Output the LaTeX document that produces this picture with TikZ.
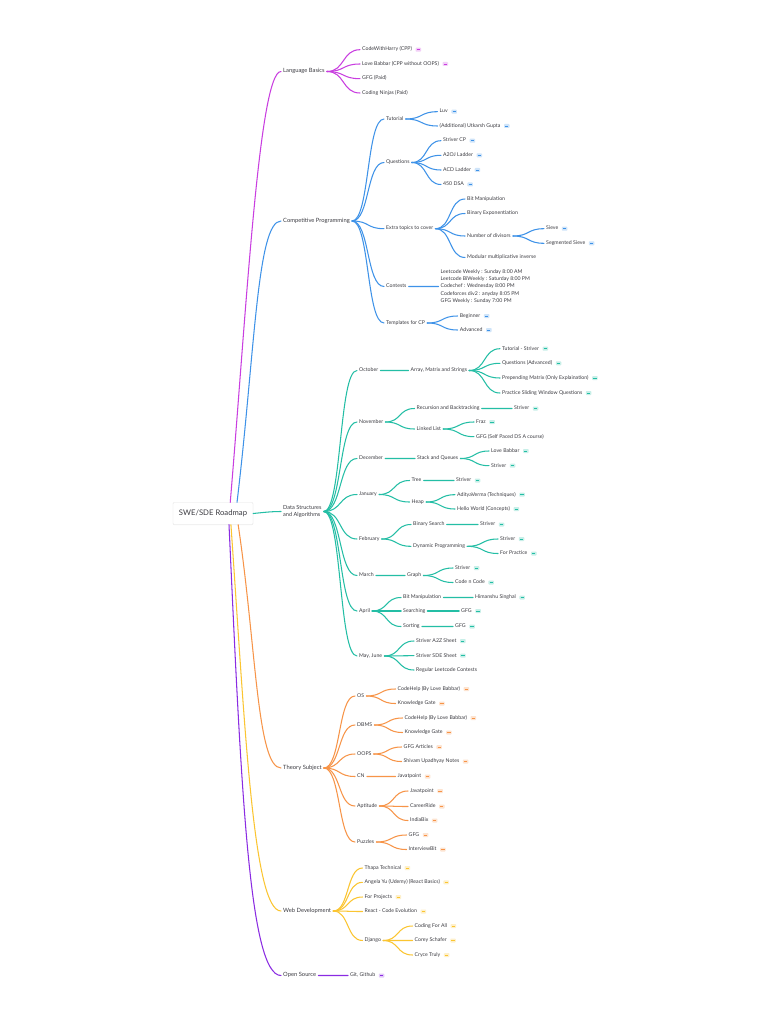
\documentclass[tikz,border=0pt]{standalone}
\usepackage{fontspec}
\setmainfont{Lato}
\usetikzlibrary{calc,shadows}
\definecolor{MagentaClr}{RGB}{201,62,224}
\definecolor{BlueClr}{RGB}{62,146,232}
\definecolor{TealClr}{RGB}{36,190,165}
\definecolor{OrangeClr}{RGB}{247,148,72}
\definecolor{YellowClr}{RGB}{251,197,49}
\definecolor{PurpleClr}{RGB}{138,43,226}
\definecolor{TextClr}{RGB}{60,60,66}
\tikzset{
  tnode/.style={anchor=west,xshift=-2pt,inner xsep=2pt,inner ysep=0pt,text=TextClr,
    font=\fontsize{5.2}{6}\selectfont,text height=3.8pt,text depth=1.2pt},
  hnode/.style={tnode,font=\fontsize{5.8}{6}\selectfont},
  mnode/.style={anchor=west,xshift=-2pt,inner xsep=2pt,inner ysep=0pt,text=TextClr,align=left},
  icobox/.style={fill=BrClr!25,rounded corners=.8pt,minimum width=5.5pt,minimum height=4pt,
    inner sep=0pt,label distance=1.2pt,
    path picture={\draw[BrClr,line width=.8pt]
      ([xshift=-1.6pt]path picture bounding box.center) -- ([xshift=1.6pt]path picture bounding box.center);}},
  lnk/.style={label={[icobox]right:{}}},
  edge/.style={draw=BrClr,line width=1.05pt,line cap=round},
}
\newcommand{\fan}[1]{%
  \foreach \a/\b in {#1}
    \draw[edge] (\a.east) .. controls ($(\a.east)!.55!(\a.east-|\b.west)$) and ($(\b.west)!.55!(\b.west-|\a.east)$) .. (\b.west);}
\begin{document}
\begin{tikzpicture}[x=1pt,y=-1pt]
\useasboundingbox (0,-1) rectangle (768,1023);
\fill[white] (0,-1) rectangle (768,1023);

% Central topic.
\node[draw=black!10,fill=white,rounded corners=1pt,drop shadow={shadow xshift=0pt,shadow yshift=-.6pt,opacity=.12},
  minimum width=80pt,minimum height=22pt,text=TextClr,font=\fontsize{7.7}{8}\selectfont] (root) at (213,512.5) {SWE/SDE Roadmap};

% Language basics.
\begin{scope}
\colorlet{BrClr}{MagentaClr}
\node[hnode] (lang) at (283,70.5) {Language Basics};
\node[tnode,lnk] (langA) at (362,48.7) {CodeWithHarry (CPP)};
\node[tnode,lnk] (langB) at (362,63) {Love Babbar (CPP without OOPS)};
\node[tnode] (langC) at (362,77.7) {GFG (Paid)};
\node[tnode] (langD) at (362,92) {Coding Ninjas (Paid)};
\draw[edge] (root.33) .. controls +(16,-190) and +(-22,0) .. (lang.west);
\fan{lang/langA,lang/langB,lang/langC,lang/langD}
\end{scope}

% Competitive programming.
\begin{scope}
\colorlet{BrClr}{BlueClr}
\node[hnode] (comp) at (283,220) {Competitive Programming};
\node[tnode] (tut) at (386,118) {Tutorial};
\node[tnode] (ques) at (386,161.5) {Questions};
\node[tnode] (extra) at (386,227.7) {Extra topics to cover};
\node[tnode] (cont) at (386,285.5) {Contests};
\node[tnode] (temp) at (386,322) {Templates for CP};
\node[tnode,lnk] (tutA) at (439.5,110.7) {Luv};
\node[tnode,lnk] (tutB) at (439.5,125) {(Additional) Utkarsh Gupta};
\node[tnode,lnk] (quesA) at (443,139.7) {Striver CP};
\node[tnode,lnk] (quesB) at (443,154.3) {A2OJ Ladder};
\node[tnode,lnk] (quesC) at (443,169) {ACD Ladder};
\node[tnode,lnk] (quesD) at (443,183.5) {450 DSA};
\node[tnode] (extraA) at (467,198) {Bit Manipulation};
\node[tnode] (extraB) at (467,212.5) {Binary Exponentiation};
\node[tnode] (extraC) at (467,235) {Number of divisors};
\node[tnode] (extraD) at (467,256.5) {Modular multiplicative inverse};
\node[tnode,lnk] (sieveA) at (546,227.7) {Sieve};
\node[tnode,lnk] (sieveB) at (546,242.3) {Segmented Sieve};
\node[mnode,font=\fontsize{5.2}{7.25}\selectfont] (contA) at (440.5,285.5) {Leetcode Weekly : Sunday 8:00 AM\\Leetcode BiWeekly : Saturday 8:00 PM\\Codechef : Wednesday 8:00 PM\\Codeforces div2 : anyday 8:05 PM\\GFG Weekly : Sunday 7:00 PM};
\node[tnode,lnk] (tempA) at (459.7,315) {Beginner};
\node[tnode,lnk] (tempB) at (459.7,329) {Advanced};
\draw[edge] (root.25) .. controls +(18,-150) and +(-24,0) .. (comp.west);
\fan{comp/tut,comp/ques,comp/extra,comp/cont,comp/temp,tut/tutA,tut/tutB,ques/quesA,ques/quesB,ques/quesC,ques/quesD,
  extra/extraA,extra/extraB,extra/extraC,extra/extraD,extraC/sieveA,extraC/sieveB,cont/contA,temp/tempA,temp/tempB}
\end{scope}

% Data structures and algorithms.
\begin{scope}
\colorlet{BrClr}{TealClr}
\node[mnode,font=\fontsize{5.6}{6.6}\selectfont] (dsa) at (283,510.5) {Data Structures\\and Algorithms};
\node[tnode] (oct) at (359,369.5) {October};
\node[tnode] (nov) at (359,421) {November};
\node[tnode] (dec) at (359,457.5) {December};
\node[tnode] (jan) at (359,493.5) {January};
\node[tnode] (feb) at (359,538) {February};
\node[tnode] (mar) at (359,574.5) {March};
\node[tnode] (apr) at (359,610) {April};
\node[tnode] (may) at (359,655) {May, June};
\node[tnode] (arr) at (410.5,369.5) {Array, Matrix and Strings};
\node[tnode,lnk] (arrA) at (502,347.7) {Tutorial - Striver};
\node[tnode,lnk] (arrB) at (502,362.3) {Questions (Advanced)};
\node[tnode,lnk] (arrC) at (502,377) {Prepending Matrix (Only Explaination)};
\node[tnode,lnk] (arrD) at (502,392) {Practice Sliding Window Questions};
\node[tnode] (rec) at (416.5,407.5) {Recursion and Backtracking};
\node[tnode] (list) at (416.5,428) {Linked List};
\node[tnode,lnk] (recA) at (514,407.5) {Striver};
\node[tnode,lnk] (listA) at (476,421) {Fraz};
\node[tnode] (listB) at (476,435.7) {GFG (Self Paced DS A course)};
\node[tnode] (stack) at (417,457.5) {Stack and Queues};
\node[tnode,lnk] (stackA) at (491,450) {Love Babbar};
\node[tnode,lnk] (stackB) at (491,464.7) {Striver};
\node[tnode] (tree) at (411.5,479.5) {Tree};
\node[tnode] (heap) at (411.5,501) {Heap};
\node[tnode,lnk] (treeA) at (456,479.5) {Striver};
\node[tnode,lnk] (heapA) at (457,493.7) {AdityaVerma (Techniques)};
\node[tnode,lnk] (heapB) at (457,508) {Hello World (Concepts)};
\node[tnode] (bins) at (413,523.5) {Binary Search};
\node[tnode] (dyn) at (413,545.3) {Dynamic Programming};
\node[tnode,lnk] (binsA) at (480,523.5) {Striver};
\node[tnode,lnk] (dynA) at (500,538) {Striver};
\node[tnode,lnk] (dynB) at (500,552.5) {For Practice};
\node[tnode] (graph) at (407,574.5) {Graph};
\node[tnode,lnk] (graphA) at (455,567) {Striver};
\node[tnode,lnk] (graphB) at (455,581.5) {Code n Code};
\node[tnode] (bitm) at (403,596.5) {Bit Manipulation};
\node[tnode] (srch) at (403,610) {Searching};
\node[tnode] (sort) at (403,625.5) {Sorting};
\node[tnode,lnk] (bitmA) at (475,596.5) {Himanshu Singhal};
\node[tnode,lnk] (srchA) at (461,610) {GFG};
\node[tnode,lnk] (sortA) at (455,625.5) {GFG};
\node[tnode,lnk] (mayA) at (416,640) {Striver A2Z Sheet};
\node[tnode,lnk] (mayB) at (416,654.7) {Striver SDE Sheet};
\node[tnode] (mayC) at (416,669) {Regular Leetcode Contests};
\draw[edge] (root.east) .. controls +(10,-1) and +(-10,0) .. (dsa.west);
\fan{dsa/oct,dsa/nov,dsa/dec,dsa/jan,dsa/feb,dsa/mar,dsa/apr,dsa/may,oct/arr,arr/arrA,arr/arrB,arr/arrC,arr/arrD,
  nov/rec,nov/list,rec/recA,list/listA,list/listB,dec/stack,stack/stackA,stack/stackB,
  jan/tree,jan/heap,tree/treeA,heap/heapA,heap/heapB,feb/bins,feb/dyn,bins/binsA,dyn/dynA,dyn/dynB,
  mar/graph,graph/graphA,graph/graphB,apr/bitm,apr/sort,bitm/bitmA,sort/sortA,may/mayA,may/mayB,may/mayC}
% These two are heavier in the map.
\draw[edge,line width=1.7pt] (apr.east) -- (srch.west);
\draw[edge,line width=1.7pt] (srch.east) -- (srchA.west);
\end{scope}

% Theory subject.
\begin{scope}
\colorlet{BrClr}{OrangeClr}
\node[hnode] (theory) at (283,767) {Theory Subject};
\node[tnode] (os) at (357,695) {OS};
\node[tnode] (dbms) at (357,724) {DBMS};
\node[tnode] (oops) at (357,753) {OOPS};
\node[tnode] (cn) at (357,775.5) {CN};
\node[tnode] (apt) at (357,805) {Aptitude};
\node[tnode] (puz) at (357,841) {Puzzles};
\node[tnode,lnk] (osA) at (397.5,688) {CodeHelp (By Love Babbar)};
\node[tnode,lnk] (osB) at (397.5,702.5) {Knowledge Gate};
\node[tnode,lnk] (dbmsA) at (404.5,717) {CodeHelp (By Love Babbar)};
\node[tnode,lnk] (dbmsB) at (404.5,731.5) {Knowledge Gate};
\node[tnode,lnk] (oopsA) at (403.5,746) {GFG Articles};
\node[tnode,lnk] (oopsB) at (403.5,760.5) {Shivam Upadhyay Notes};
\node[tnode,lnk] (cnA) at (397.5,775.5) {Javatpoint};
\node[tnode,lnk] (aptA) at (410,790) {Javatpoint};
\node[tnode,lnk] (aptB) at (410,805.5) {CareerRide};
\node[tnode,lnk] (aptC) at (410,819.5) {IndiaBix};
\node[tnode,lnk] (puzA) at (408.5,834) {GFG};
\node[tnode,lnk] (puzB) at (408.5,848.5) {InterviewBit};
\draw[edge] (root.-24) .. controls +(18,120) and +(-24,0) .. (theory.west);
\fan{theory/os,theory/dbms,theory/oops,theory/cn,theory/apt,theory/puz,os/osA,os/osB,dbms/dbmsA,dbms/dbmsB,
  oops/oopsA,oops/oopsB,cn/cnA,apt/aptA,apt/aptB,apt/aptC,puz/puzA,puz/puzB}
\end{scope}

% Web development.
\begin{scope}
\colorlet{BrClr}{YellowClr}
\node[hnode] (web) at (283,910) {Web Development};
\node[tnode,lnk] (webA) at (364.5,867) {Thapa Technical};
\node[tnode,lnk] (webB) at (364.5,881.3) {Angela Yu (Udemy) (React Basics)};
\node[tnode,lnk] (webC) at (364.5,896) {For Projects};
\node[tnode,lnk] (webD) at (364.5,910.5) {React - Code Evolution};
\node[tnode] (djan) at (364.5,939.5) {Django};
\node[tnode,lnk] (djanA) at (414.5,925) {Coding For All};
\node[tnode,lnk] (djanB) at (414.5,939.5) {Corey Schafer};
\node[tnode,lnk] (djanC) at (414.5,954) {Cryce Truly};
\draw[edge] (root.-32) .. controls +(14,200) and +(-28,0) .. (web.west);
\fan{web/webA,web/webB,web/webC,web/webD,web/djan,djan/djanA,djan/djanB,djan/djanC}
\end{scope}

% Open source.
\begin{scope}
\colorlet{BrClr}{PurpleClr}
\node[hnode] (open) at (283,974.5) {Open Source};
\node[tnode,lnk] (openA) at (350,974.5) {Git, Github};
\draw[edge] (root.-35) .. controls +(12,260) and +(-32,0) .. (open.west);
\fan{open/openA}
\end{scope}

\end{tikzpicture}
\end{document}
